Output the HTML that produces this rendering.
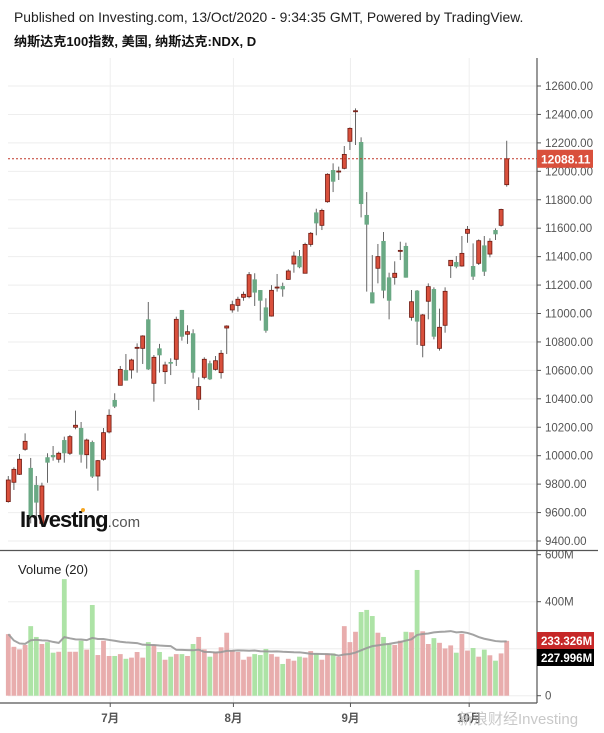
<!DOCTYPE html>
<html><head><meta charset="utf-8">
<style>
html,body{margin:0;padding:0;background:#fff;}
#wrap{position:relative;width:604px;height:733px;overflow:hidden;font-family:"Liberation Sans","Noto Sans CJK SC",sans-serif;}
.h1{position:absolute;left:14px;top:9px;font-size:13.9px;color:#222;white-space:nowrap;}
.h2{position:absolute;left:14px;top:31px;font-size:13.1px;font-weight:bold;color:#111;white-space:nowrap;}
</style></head>
<body>
<div id="wrap">
<div class="h1">Published on Investing.com, 13/Oct/2020 - 9:34:35 GMT, Powered by TradingView.</div>
<div class="h2">纳斯达克100指数, 美国, 纳斯达克:NDX, D</div>
<svg id="chart" width="604" height="733" style="position:absolute;left:0;top:0"></svg>
</div>
<script>
const opens=[9677,9813,9869,10045,9914,9794,9524,9989,10005,9975,10110,10017,10200,10195,10007,10096,9857,9975,10167,10392,10495,10603,10603,10755,10755,10959,10509,10755,10591,10659,10678,11025,10854,10861,10397,10551,10650,10607,10584,10898,11025,11057,11114,11118,11240,11165,11043,10982,11182,11193,11240,11348,11404,11283,11486,11711,11620,11786,12009,11995,12021,12211,12422,12206,11693,11149,11318,11510,11254,11254,11437,11475,10973,11161,10776,11086,11172,10755,10917,11336,11362,11334,11564,11334,11353,11479,11418,11587,11620,11906];
const highs=[9857,9918,10012,10157,9984,9857,9810,10017,10068,10028,10134,10146,10317,10237,10120,10106,9970,10195,10326,10439,10631,10715,10682,10790,10847,11081,10708,10786,10661,10685,10978,11025,10917,10889,10551,10692,10668,10701,10743,10917,11090,11118,11154,11292,11283,11165,11107,11200,11278,11217,11311,11435,11447,11498,11573,11737,11737,11986,12056,12033,12178,12309,12443,12239,11854,11411,11489,11573,11287,11367,11505,11498,11165,11165,10997,11212,11184,11034,11184,11376,11404,11545,11615,11493,11521,11545,11529,11599,11737,12215];
const lows=[9670,9759,9864,10035,9524,9524,9501,9810,9965,9951,9951,10005,10186,9951,9909,9843,9754,9965,10157,10335,10495,10528,10542,10584,10645,10603,10380,10584,10504,10567,10631,10809,10786,10542,10321,10537,10532,10598,10542,10715,11006,11013,11090,11107,11053,10950,10865,10978,11154,11118,11236,11287,11318,11283,11470,11550,11587,11779,11854,11939,12014,12150,12185,11676,11154,11071,11212,11107,10959,11203,11376,11252,10950,10779,10692,10959,10818,10739,10865,11250,11318,11329,11498,11236,11341,11264,11395,11517,11611,11892];
const closes=[9829,9904,9975,10101,9571,9670,9787,9951,9989,10017,10017,10134,10214,10007,10110,9853,9965,10162,10284,10345,10607,10528,10673,10762,10842,10607,10692,10706,10638,10647,10959,10837,10872,10584,10486,10678,10537,10668,10720,10912,11062,11100,11135,11273,11147,11090,10879,11163,11186,11170,11299,11404,11325,11486,11564,11634,11725,11979,11927,12002,12119,12302,12426,11770,11625,11071,11400,11161,11090,11283,11444,11252,11083,10943,10990,11189,10837,10903,11156,11374,11329,11423,11592,11259,11512,11294,11508,11557,11732,12088.11];
const volumes=[262,208,197,216,296,250,220,228,183,187,496,187,187,234,196,386,173,234,169,169,177,157,162,186,162,228,216,186,153,166,177,177,169,220,250,197,166,187,206,268,194,186,153,166,177,173,199,177,166,135,157,149,166,162,190,180,153,180,180,166,296,228,272,356,365,339,268,250,220,216,234,272,270,535,274,220,245,225,201,214,183,263,192,203,166,196,172,149,180,233.326];
const priceTicks=[12600,12400,12200,12000,11800,11600,11400,11200,11000,10800,10600,10400,10200,10000,9800,9600,9400];
const priceTickLabels=["12600.00","12400.00","12200.00","12000.00","11800.00","11600.00","11400.00","11200.00","11000.00","10800.00","10600.00","10400.00","10200.00","10000.00","9800.00","9600.00","9400.00"];
const volTicks=[600,400,0];
const volTickLabels=["600M","400M","0"];
const volGrid=[400,200,0];
const monthLabels=["7月","8月","9月","10月"];
const monthIndex=[18.2,40.2,61.1,82.3];

const svg=document.getElementById('chart');
const NS='http://www.w3.org/2000/svg';
function mk(tag,attrs,parent){const e=document.createElementNS(NS,tag);for(const k in attrs)e.setAttribute(k,attrs[k]);(parent||svg).appendChild(e);return e;}
const L=8,R=537,PT=58,PB=550,VT=551,VB=703;
const xScale=i=>8.3+i*5.6;
const yP=v=>86+(12600-v)*455/3200;
const yV=m=>695.7-m*94/400;

const grid=mk('g',{});


priceTicks.forEach(t=>{mk('line',{x1:L,x2:R,y1:yP(t),y2:yP(t),stroke:'#eeeeee','stroke-width':1},grid);});
volGrid.forEach(t=>{mk('line',{x1:L,x2:R,y1:yV(t),y2:yV(t),stroke:'#eeeeee','stroke-width':1},grid);});
monthIndex.forEach(i=>{const x=xScale(i);mk('line',{x1:x,x2:x,y1:PT,y2:VB,stroke:'#eeeeee','stroke-width':1},grid);});

const cg=mk('g',{});


for(let i=0;i<opens.length;i++){
  const x=xScale(i),up=closes[i]>=opens[i];
  const g=mk('g',{},cg);
  
  
  mk('line',{x1:x,x2:x,y1:yP(highs[i]),y2:yP(lows[i]),stroke:'#666','stroke-width':1},g);
  const top=yP(Math.max(opens[i],closes[i])),bot=yP(Math.min(opens[i],closes[i]));
  const h=Math.max(1,bot-top);
  if(up) mk('rect',{x:x-2,y:top,width:4,height:h,fill:'#d9503c',stroke:'#6e1a12','stroke-width':0.8},g);
  else mk('rect',{x:x-2.2,y:top,width:4.4,height:h,fill:'#6aa984'},g);
}

const vg=mk('g',{});


for(let i=0;i<volumes.length;i++){
  const x=xScale(i),up=closes[i]>=opens[i];
  const r=mk('rect',{x:x-2.4,y:yV(volumes[i]),width:4.8,height:yV(0)-yV(volumes[i]),fill:up?'#e8adad':'#ade3a6'},vg);
  
  
}
let pts=[],lastMA=0;
for(let i=0;i<volumes.length;i++){let s=0,n=0;for(let j=Math.max(0,i-19);j<=i;j++){s+=volumes[j];n++;}lastMA=s/n;pts.push(xScale(i)+','+yV(lastMA));}
const ma=mk('polyline',{points:pts.join(' '),fill:'none',stroke:'#999','stroke-width':2,opacity:0.9});



const cp=closes[closes.length-1];
const pl=mk('line',{x1:L,x2:R,y1:yP(cp),y2:yP(cp),stroke:'#c0392b','stroke-width':1,'stroke-dasharray':'2,2'});



const ax=mk('g',{});


mk('line',{x1:R,x2:R,y1:PT,y2:VB,stroke:'#555','stroke-width':1.2},ax);
mk('line',{x1:0,x2:598,y1:550.5,y2:550.5,stroke:'#555','stroke-width':1.2},ax);
mk('line',{x1:0,x2:R,y1:VB,y2:VB,stroke:'#555','stroke-width':1.2},ax);
priceTicks.forEach((t,k)=>{
  mk('line',{x1:R,x2:R+4,y1:yP(t),y2:yP(t),stroke:'#555'},ax);
  const tx=mk('text',{x:545,y:yP(t)+4,'font-size':11.5,fill:'#555','font-family':'Liberation Sans, sans-serif'},ax);
  tx.textContent=priceTickLabels[k];
  
  
});
volTicks.forEach((t,k)=>{
  mk('line',{x1:R,x2:R+4,y1:yV(t),y2:yV(t),stroke:'#555'},ax);
  const tx=mk('text',{x:545,y:yV(t)+4,'font-size':11.5,fill:'#555','font-family':'Liberation Sans, sans-serif'},ax);
  tx.textContent=volTickLabels[k];
  
  
});
monthLabels.forEach((m,k)=>{
  const x=xScale(monthIndex[k]);
  mk('line',{x1:x,x2:x,y1:VB,y2:VB+4,stroke:'#555'},ax);
  const tx=mk('text',{x:x,y:722,'font-size':11.5,'font-weight':'bold',fill:'#555','text-anchor':'middle','font-family':'Liberation Sans, Noto Sans CJK SC, sans-serif'},ax);
  tx.textContent=m;
  
  
});

const pb=mk('g',{});


mk('rect',{x:537,y:yP(cp)-9,width:56,height:18,fill:'#d9503c'},pb);
const pt=mk('text',{x:541,y:yP(cp)+4.5,'font-size':12,'font-weight':'bold',fill:'#fff','font-family':'Liberation Sans, sans-serif'},pb);
pt.textContent=cp.toFixed(2);

const vb1=mk('g',{});


const lv=volumes[volumes.length-1];
mk('rect',{x:537,y:632,width:57,height:17,fill:'#c62828'},vb1);
const v1=mk('text',{x:541,y:645,'font-size':11.5,'font-weight':'bold',fill:'#fff','font-family':'Liberation Sans, sans-serif'},vb1);
v1.textContent=lv.toFixed(3)+'M';
const vb2=mk('g',{});


mk('rect',{x:537,y:649,width:57,height:17,fill:'#000'},vb2);
const v2=mk('text',{x:541,y:662,'font-size':11.5,'font-weight':'bold',fill:'#fff','font-family':'Liberation Sans, sans-serif'},vb2);
v2.textContent='227.996M';

const vt=mk('text',{x:18,y:574,'font-size':13,fill:'#222','font-family':'Liberation Sans, sans-serif'});
vt.textContent='Volume (20)';



const lg=mk('text',{x:20,y:527,'font-size':22,'font-weight':'bold',fill:'#111','font-family':'Liberation Sans, sans-serif','letter-spacing':'-1'});


lg.innerHTML='Investing<tspan font-size="15" font-weight="normal" fill="#555" letter-spacing="0">.com</tspan>';
mk('circle',{cx:83,cy:510,r:2,fill:'#f5a623'});

const wm=mk('text',{x:458,y:724,'font-size':15,fill:'#bbb',opacity:0.8,'font-family':'Liberation Sans, Noto Sans CJK SC, sans-serif'});
wm.textContent='新浪财经Investing';


</script>
</body></html>
